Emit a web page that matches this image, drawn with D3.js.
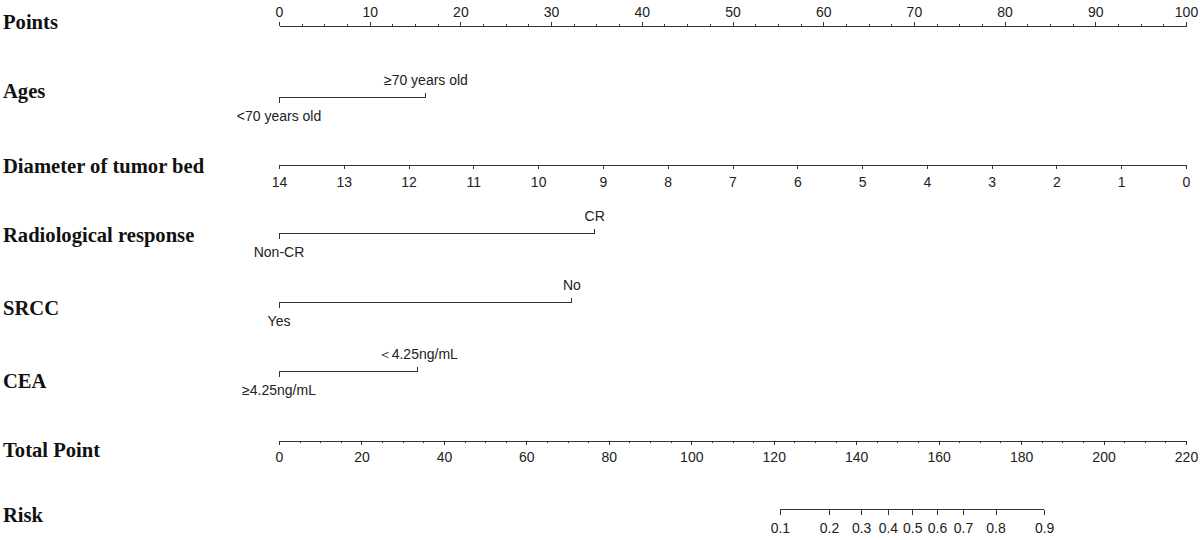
<!DOCTYPE html>
<html>
<head>
<meta charset="utf-8">
<script src="https://cdn.jsdelivr.net/npm/d3@7"></script>
<style>
  body { margin: 0; background: #fff; }
  .row-title { font-family: "Liberation Serif", "Times New Roman", serif; font-weight: bold; font-size: 20.6px; fill: #111; }
  .tick text, .lvl { font-family: "Liberation Sans", Arial, sans-serif; font-size: 14px; fill: #222; }
  .domain, .tick line, .lvl-line { stroke: #333; stroke-width: 1; shape-rendering: crispEdges; }
</style>
</head>
<body>
<svg id="chart" width="1200" height="540"></svg>
<script>
"use strict";

// row titles
const rowTitles = ["Points", "Ages", "Diameter of tumor bed", "Radiological response", "SRCC", "CEA", "Total Point", "Risk"];

// points scale
const pointLabels = [0, 10, 20, 30, 40, 50, 60, 70, 80, 90, 100];
const pointMinor = [0, 2.5, 5, 7.5, 10, 12.5, 15, 17.5, 20, 22.5, 25, 27.5, 30, 32.5, 35, 37.5, 40, 42.5, 45, 47.5, 50,
                    52.5, 55, 57.5, 60, 62.5, 65, 67.5, 70, 72.5, 75, 77.5, 80, 82.5, 85, 87.5, 90, 92.5, 95, 97.5, 100];

// categorical predictors: levels and points
const ageLevels = ["<70 years old", "≥70 years old"];
const agePoints = [0, 16.2];
const radioLevels = ["Non-CR", "CR"];
const radioPoints = [0, 34.8];
const srccLevels = ["Yes", "No"];
const srccPoints = [0, 32.3];
const ceaLevels = ["≥4.25ng/mL", "＜4.25ng/mL"];
const ceaPoints = [0, 15.3];

// continuous predictor: diameter 14 -> 0 points, 0 -> 100 points
const diameterTicks = [14, 13, 12, 11, 10, 9, 8, 7, 6, 5, 4, 3, 2, 1, 0];

// total points
const totalLabels = [0, 20, 40, 60, 80, 100, 120, 140, 160, 180, 200, 220];
const totalMinor = [0, 5, 10, 15, 20, 25, 30, 35, 40, 45, 50, 55, 60, 65, 70, 75, 80, 85, 90, 95, 100, 105, 110,
                    115, 120, 125, 130, 135, 140, 145, 150, 155, 160, 165, 170, 175, 180, 185, 190, 195, 200, 205, 210, 215, 220];

// risk labels and the total points where each falls
const riskLabels = ["0.1", "0.2", "0.3", "0.4", "0.5", "0.6", "0.7", "0.8", "0.9"];
const riskTotals = [121.5, 133.4, 141.2, 147.7, 153.6, 159.6, 165.9, 173.8, 185.6];

const svg = d3.select("#chart");
const left = 279, right = 1186;

const rowY = [25.5, 97.5, 164.5, 233.5, 302.5, 371.5, 440.5, 509.5];
const titleY = [29, 98, 173, 242, 314.5, 388, 457, 522];

const x = d3.scaleLinear().domain([0, 100]).range([left, right]);
const xDiam = d3.scaleLinear().domain([14, 0]).range([x(0), x(100)]);
const xTotal = d3.scaleLinear().domain([0, 220]).range([left, right]);

// titles on the left
svg.selectAll("text.row-title")
   .data(rowTitles)
   .enter()
   .append("text")
   .attr("class", "row-title")
   .attr("x", 3)
   .attr("y", (d, i) => titleY[i])
   .text(d => d);

// Points axis (labels on top)
svg.append("g")
   .attr("transform", "translate(0," + rowY[0] + ")")
   .call(d3.axisTop(x).tickValues(pointMinor).tickSize(2).tickSizeOuter(0).tickFormat(""));
svg.append("g")
   .attr("transform", "translate(0," + rowY[0] + ")")
   .call(d3.axisTop(x).tickValues(pointLabels).tickSize(4).tickPadding(5).tickSizeOuter(0).tickFormat(d3.format("d")));

// categorical rows
function catRow(levels, pts, y) {
    const g = svg.append("g").attr("transform", "translate(0," + y + ")");
    g.append("line")
     .attr("class", "lvl-line")
     .attr("x1", x(pts[0])).attr("x2", x(pts[1]))
     .attr("y1", 0).attr("y2", 0);
    // low level: tick down, label below; high level: tick up, label above
    g.selectAll("line.t")
     .data(pts)
     .enter()
     .append("line")
     .attr("class", "lvl-line t")
     .attr("x1", d => x(d)).attr("x2", d => x(d))
     .attr("y1", 0).attr("y2", (d, i) => i === 0 ? 5 : -5);
    g.selectAll("text.lvl")
     .data(levels)
     .enter()
     .append("text")
     .attr("class", "lvl")
     .attr("text-anchor", "middle")
     .attr("x", (d, i) => x(pts[i]))
     .attr("y", (d, i) => i === 0 ? 23.5 : -12.5)
     .text(d => d);
}

catRow(ageLevels, agePoints, rowY[1]);

// Diameter axis
svg.append("g")
   .attr("transform", "translate(0," + rowY[2] + ")")
   .call(d3.axisBottom(xDiam).tickValues(diameterTicks).tickSize(4).tickPadding(9).tickSizeOuter(0).tickFormat(d3.format("d")));

catRow(radioLevels, radioPoints, rowY[3]);
catRow(srccLevels, srccPoints, rowY[4]);
catRow(ceaLevels, ceaPoints, rowY[5]);

// Total Point axis
svg.append("g")
   .attr("transform", "translate(0," + rowY[6] + ")")
   .call(d3.axisBottom(xTotal).tickValues(totalMinor).tickSize(2).tickSizeOuter(0).tickFormat(""));
svg.append("g")
   .attr("transform", "translate(0," + rowY[6] + ")")
   .call(d3.axisBottom(xTotal).tickValues(totalLabels).tickSize(4).tickPadding(8).tickSizeOuter(0).tickFormat(d3.format("d")));

// Risk axis, positioned on the total points scale
svg.append("g")
   .attr("transform", "translate(0," + rowY[7] + ")")
   .call(d3.axisBottom(xTotal)
           .tickValues(riskTotals)
           .tickSize(5)
           .tickPadding(9)
           .tickSizeOuter(0)
           .tickFormat((d, i) => riskLabels[i]))
   .select(".domain")
   .attr("d", "M" + xTotal(riskTotals[0]) + ",0H" + xTotal(riskTotals[riskTotals.length - 1]));

svg.selectAll(".tick text").attr("fill", "#222");
svg.selectAll(".domain").attr("stroke", "#333");
svg.selectAll(".tick line").attr("stroke", "#333");
</script>
</body>
</html>
